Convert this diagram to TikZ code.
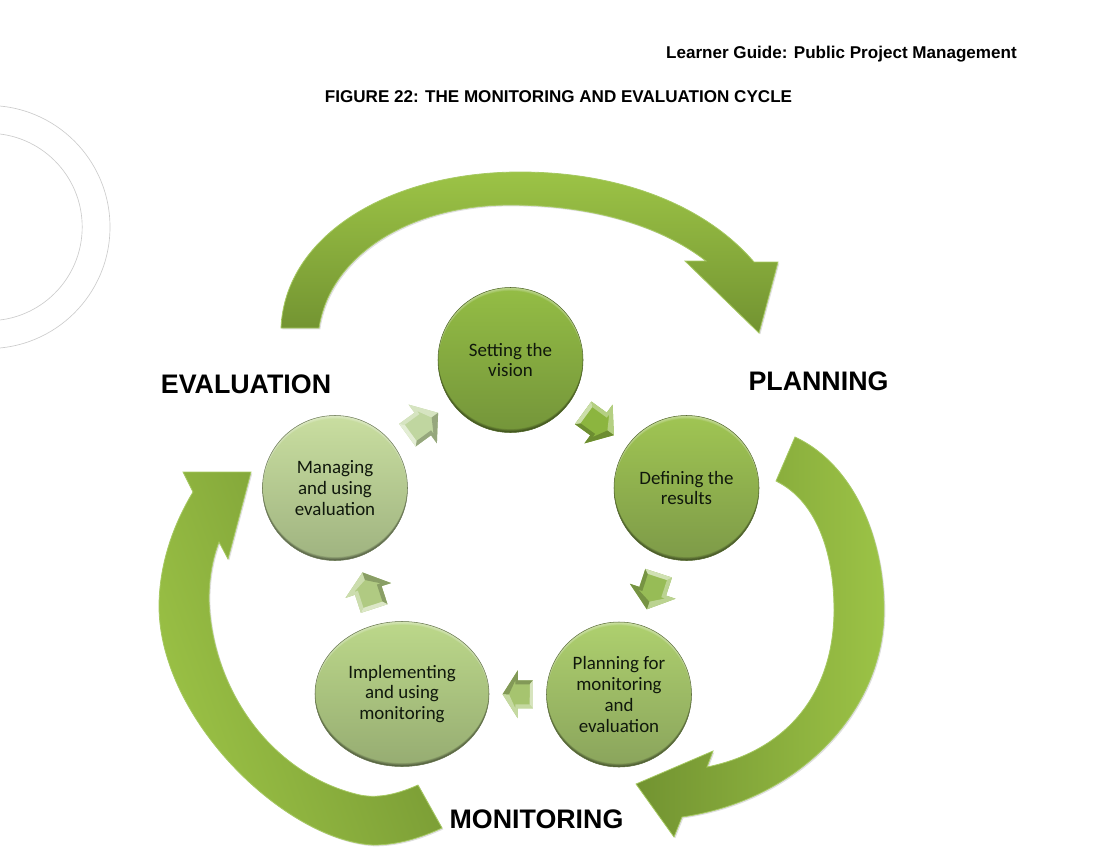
\documentclass[tikz,border=0pt]{standalone}
\usepackage{fontspec}
\setmainfont{Liberation Sans}
\newfontfamily\stagefont{Carlito}
\usetikzlibrary{shapes.geometric,shadows}

\definecolor{bigLight}{HTML}{9CC346}
\definecolor{bigDark}{HTML}{729331}
\definecolor{bigEdge}{HTML}{A6C962}
\definecolor{stageText}{HTML}{10180C}
\definecolor{visionTop}{HTML}{94BD45}
\definecolor{visionLow}{HTML}{74953A}
\definecolor{resultsTop}{HTML}{A0C553}
\definecolor{resultsLow}{HTML}{7D9A48}
\definecolor{planTop}{HTML}{AED06E}
\definecolor{planLow}{HTML}{8AA45C}
\definecolor{implTop}{HTML}{BCD88A}
\definecolor{implLow}{HTML}{96AC72}
\definecolor{manageTop}{HTML}{C9DEA0}
\definecolor{manageLow}{HTML}{9FB380}
\definecolor{tintA}{HTML}{8CB53F}
\definecolor{tintB}{HTML}{97BC56}
\definecolor{tintC}{HTML}{A6C46F}
\definecolor{tintD}{HTML}{B0CA82}
\definecolor{tintE}{HTML}{C0D6A0}

\tikzset{
    bigarrow/.style={draw=bigEdge, line width=0.6pt, drop shadow={shadow xshift=1pt, shadow yshift=-1pt, opacity=0.25}},
    biglabel/.style={font=\bfseries\fontsize{20.1}{24}\selectfont, inner sep=0pt},
    headtext/.style={font=\bfseries\fontsize{12.8}{15}\selectfont, inner sep=0pt},
    stage/.style n args={4}{shape=#1, minimum width=#2*0.75pt, minimum height=145*0.75pt, inner sep=0pt,
        top color=#3, bottom color=#4, draw=#4!70!black, line width=0.4pt,
        align=center, text=stageText, font=\stagefont\fontsize{14.2}{15.7}\selectfont,
        path picture={
            \foreach \k in {0.5,1,...,2.5}{
                \fill[black, opacity=0.11, even odd rule] (path picture bounding box.south west) rectangle (path picture bounding box.north east)
                    ([yshift=\k pt]path picture bounding box.center) ellipse [x radius=#2*0.5, y radius=72.5]; % Lower rim
                \fill[white, opacity=0.10, even odd rule] (path picture bounding box.south west) rectangle (path picture bounding box.north east)
                    ([yshift=-\k pt]path picture bounding box.center) ellipse [x radius=#2*0.5, y radius=72.5]; % Upper rim
            }
        }},
    blockarrow/.pic={
        \fill[#1] (-19,-14) -- (0,-14) -- (0,-24) -- (19,0) -- (0,24) -- (0,14) -- (-19,14) -- cycle; % Outline
        \fill[#1!65!white] (-19,-14) -- (0,-14) -- (0,-24) -- (19,0) -- (11,0) -- (3,-14) -- (3,-10) -- (-15,-10) -- cycle; % Lit side
        \fill[#1!78!black] (19,0) -- (0,24) -- (0,14) -- (-19,14) -- (-15,10) -- (3,10) -- (3,14) -- (11,0) -- cycle; % Dark side
        \fill[#1!45!white] (-19,-14) -- (-15,-10) -- (-15,10) -- (-19,14) -- cycle; % Tail
    }
}

\begin{document}
\begin{tikzpicture}[x=0.75pt, y=-0.75pt]
    \useasboundingbox (0,0) rectangle (1102,846);

    % Page decoration
    \begin{scope}
        \clip (0,0) rectangle (1102,846);
        \draw[black!20, line width=0.5pt] (-11.5,227) circle (121.5);
        \draw[black!20, line width=0.5pt] (-11.5,227) circle (93.7);
    \end{scope}

    \node[headtext, anchor=base east] (guide) at (1017,58) {Learner Guide: Public Project Management};
    \node[headtext, anchor=base] (figure) at (558.5,102) {FIGURE 22: THE MONITORING AND EVALUATION CYCLE};

    % Large arrows
    \path[bigarrow, top color=bigLight, bottom color=bigDark]
        (281,328) .. controls (285,235) and (390,172) .. (520,172)
        .. controls (620,172) and (705,205) .. (754,262)
        -- (778,262) -- (759,333) -- (685,261) -- (706,261)
        .. controls (660,225) and (590,205) .. (510,205)
        .. controls (410,205) and (330,255) .. (319,328) -- cycle;
    \path[bigarrow, left color=bigDark, right color=bigLight]
        (795,437) .. controls (855,465) and (884,540) .. (884,610)
        .. controls (884,710) and (800,800) .. (682,817)
        -- (674,837) -- (636,784) -- (713,751) -- (707,767)
        .. controls (790,750) and (834,690) .. (834,610)
        .. controls (834,550) and (815,500) .. (776,481) -- cycle;
    \path[bigarrow, top color=bigDark, bottom color=bigLight, shading angle=-70]
        (442,828) .. controls (420,838) and (398,845) .. (373,845)
        .. controls (285,840) and (160,720) .. (159,607)
        .. controls (159,570) and (170,530) .. (193,492)
        -- (183,472) -- (251,472) -- (228,559) -- (219,542)
        .. controls (212,560) and (209,580) .. (209,600)
        .. controls (212,690) and (272,775) .. (360,795)
        .. controls (380,799) and (400,793) .. (418,785) -- cycle;

    % Stages
    \node[stage={circle}{145}{visionTop}{visionLow}] (vision) at (510.5,360) {Setting the\\vision};
    \node[stage={circle}{145}{resultsTop}{resultsLow}] (results) at (686.5,488) {Defining the\\results};
    \node[stage={circle}{145}{planTop}{planLow}] (planmon) at (619,694.5) {Planning for\\monitoring\\and\\evaluation};
    \node[stage={ellipse}{174}{implTop}{implLow}] (implement) at (402,694) {Implementing\\and using\\monitoring};
    \node[stage={circle}{145}{manageTop}{manageLow}] (manage) at (335,488) {Managing\\and using\\evaluation};

    % Small arrows between the stages
    \foreach \a/\b/\c/\s in {vision/results/tintA/1, results/planmon/tintB/1, planmon/implement/tintC/0.8, implement/manage/tintD/1, manage/vision/tintE/1}
        \path (\a) -- (\b) pic[midway, sloped, allow upside down, xscale=\s]{blockarrow=\c};

    % Phase labels
    \node[biglabel, anchor=base] (evaluation) at (246,393) {EVALUATION};
    \node[biglabel, anchor=base] (planning) at (818.5,390) {PLANNING};
    \node[biglabel, anchor=base] (monitoring) at (536.5,828) {MONITORING};
\end{tikzpicture}
\end{document}
